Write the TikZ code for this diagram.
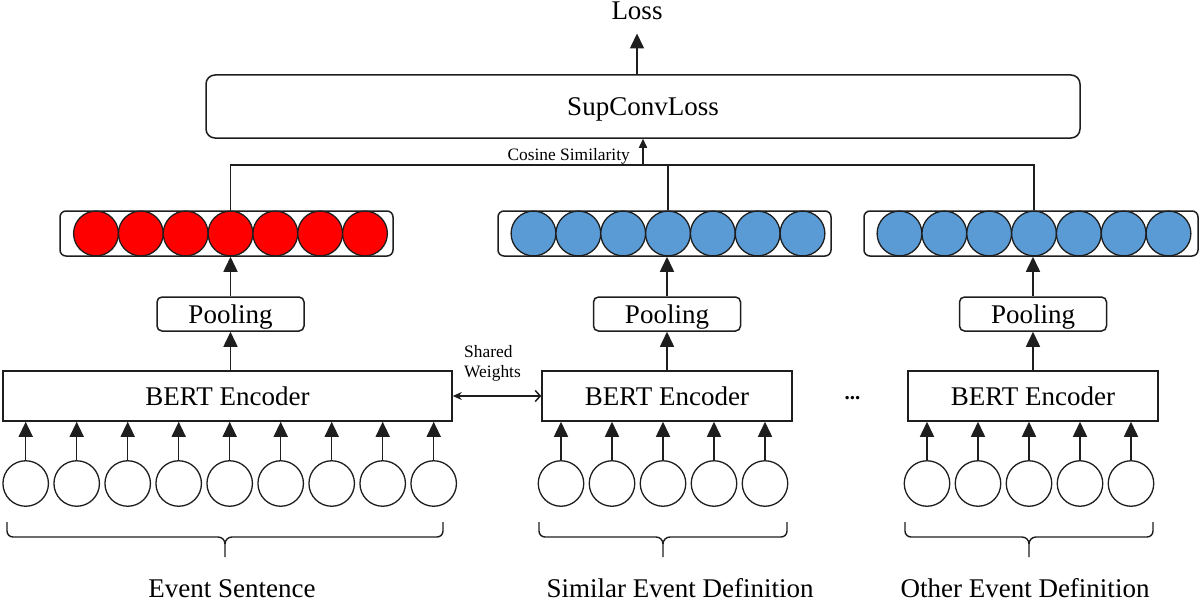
\documentclass[tikz,border=0pt]{standalone}
\usepackage{fontspec}
\setmainfont{Liberation Serif}
\usetikzlibrary{arrows.meta}
\newcommand\fsMain{\fontsize{27}{32}\selectfont}
\newcommand\fsSmall{\fontsize{17.4}{20}\selectfont}
\definecolor{vred}{RGB}{255,0,0}
\definecolor{vblue}{RGB}{91,155,213}
\definecolor{ln}{RGB}{30,30,30}
\begin{document}
\begin{tikzpicture}[x=1pt,y=-1pt,
  box/.style={draw=ln, line width=1.5pt, fill=white, font=\fsMain, text depth=0pt, inner sep=0pt},
  bert/.style={box, minimum height=50pt},
  pool/.style={box, rounded corners=5pt, minimum width=147pt, minimum height=34pt},
  vec/.style={draw=ln, line width=1.5pt, rounded corners=6pt, minimum height=45pt, inner sep=0pt},
  dot/.style={circle, draw=ln, line width=1.3pt, minimum size=44.8pt, inner sep=0pt},
  inp/.style={circle, draw=ln, line width=1.3pt, minimum size=45.5pt, inner sep=0pt, fill=white},
  arr/.style={draw=ln, line width=1.5pt, -{Triangle[length=15pt,width=14pt]}},
  link/.style={draw=ln, line width=1.5pt},
  brc/.style={draw=ln, line width=1.4pt},
  lbl/.style={font=\fsMain, anchor=base, inner sep=0pt}
]
\useasboundingbox (0,0) rectangle (1200,602);

% top
\node[box, rounded corners=9pt, minimum width=874pt, minimum height=63pt] (sup) at (643,106.5) {SupConvLoss};
\node[lbl] (loss) at (637,20) {Loss};
\draw[arr, shorten >=13pt] (sup.north -| loss.south) -- (loss.south);

% vectors
\node[vec, minimum width=333pt] (vecA) at (226.5,233.5) {};
\node[vec, minimum width=333pt] (vecB) at (664.5,233.5) {};
\node[vec, minimum width=334pt] (vecC) at (1031,233.5) {};
\foreach \i in {1,...,7} {
  \node[dot, fill=vred] (rA\i) at ({96+44.83*(\i-1)},233.5) {};
  \node[dot, fill=vblue] (bB\i) at ({533.5+44.83*(\i-1)},233.5) {};
  \node[dot, fill=vblue] (bC\i) at ({899.5+44.83*(\i-1)},233.5) {};
}

% cosine similarity join
\coordinate (cjoin) at (643,165);
\draw[link] (rA4.north) |- (cjoin) -| (bC4.north);
\draw[link] (bB4.north) -- (bB4.north |- cjoin);
\draw[draw=ln, line width=1.5pt, -{Triangle[length=9pt,width=8pt]}] (cjoin) -- (sup.south);
\node[font=\fsSmall, anchor=base east, inner sep=0pt] (cos) at (630,160) {Cosine Similarity};

% pooling
\node[pool] (poolA) at (230.5,314) {Pooling};
\node[pool] (poolB) at (667,314) {Pooling};
\node[pool] (poolC) at (1033,314) {Pooling};
\draw[arr] (poolA.north) -- (poolA.north |- vecA.south);
\draw[arr] (poolB.north) -- (poolB.north |- vecB.south);
\draw[arr] (poolC.north) -- (poolC.north |- vecC.south);

% BERT encoders
\node[bert, minimum width=449pt] (bertA) at (227.5,396) {BERT Encoder};
\node[bert, minimum width=250pt] (bertB) at (667,396) {BERT Encoder};
\node[bert, minimum width=250pt] (bertC) at (1033,396) {BERT Encoder};
\draw[arr] (bertA.north -| poolA) -- (poolA.south);
\draw[arr] (bertB.north -| poolB) -- (poolB.south);
\draw[arr] (bertC.north -| poolC) -- (poolC.south);

% shared weights
\draw[draw=ln, line width=1.5pt, {Stealth[length=9pt,width=8pt]}-{Straight Barb[length=5pt,width=11pt]}] (bertA.east) -- (bertB.west);
\node[font=\fsSmall, align=left, anchor=north west, inner sep=0pt] (sw) at (464,345) {Shared\\Weights};
\node[font=\fontsize{21}{24}\selectfont\bfseries, anchor=base, inner sep=0pt] (dots) at (852.5,399) {...};

% inputs
\foreach \i in {1,...,9} {
  \node[inp] (iA\i) at ({25.7+51*(\i-1)},483.5) {};
  \draw[arr] (iA\i.north) -- (iA\i.north |- bertA.south);
}
\foreach \i in {1,...,5} {
  \node[inp] (iB\i) at ({561+51*(\i-1)},483.5) {};
  \draw[arr] (iB\i.north) -- (iB\i.north |- bertB.south);
  \node[inp] (iC\i) at ({927+51*(\i-1)},483.5) {};
  \draw[arr] (iC\i.north) -- (iC\i.north |- bertC.south);
}

% braces
\foreach \xa/\xm/\xb in {7/225/443, 539/663/787, 905/1029/1153} {
  \draw[brc] (\xa,522) -- (\xa,531) to[out=-90,in=180] ({\xa+6},537) -- ({\xm-7},537) to[out=0,in=90] (\xm,544) -- (\xm,557);
  \draw[brc] (\xm,544) to[out=90,in=180] ({\xm+7},537) -- ({\xb-6},537) to[out=0,in=-90] (\xb,531) -- (\xb,522);
}

% labels
\node[lbl] (lA) at (232,597) {Event Sentence};
\node[lbl] (lB) at (680,597) {Similar Event Definition};
\node[lbl] (lC) at (1025,597) {Other Event Definition};
\end{tikzpicture}
\end{document}
